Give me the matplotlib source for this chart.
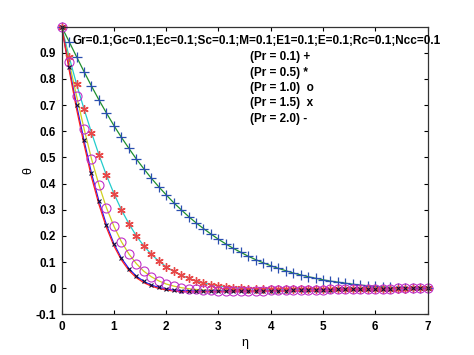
import matplotlib
matplotlib.use("Agg")
import matplotlib.pyplot as plt

plt.rcParams['font.family'] = ['Liberation Sans', 'DejaVu Sans']

# eta grid (solution points)
eta = [0.0, 0.143, 0.286, 0.429, 0.571, 0.714, 0.857, 1.0, 1.143, 1.286,
       1.429, 1.571, 1.714, 1.857, 2.0, 2.143, 2.286, 2.429, 2.571, 2.714,
       2.857, 3.0, 3.143, 3.286, 3.429, 3.571, 3.714, 3.857, 4.0, 4.143,
       4.286, 4.429, 4.571, 4.714, 4.857, 5.0, 5.143, 5.286, 5.429, 5.571,
       5.714, 5.857, 6.0, 6.143, 6.286, 6.429, 6.571, 6.714, 6.857, 7.0]

# theta for Pr = 0.1
th_01 = [1.0, 0.943, 0.885, 0.828, 0.773, 0.720, 0.670, 0.622, 0.577, 0.535,
         0.494, 0.457, 0.421, 0.388, 0.357, 0.327, 0.300, 0.274, 0.250, 0.228,
         0.207, 0.187, 0.169, 0.152, 0.137, 0.122, 0.109, 0.097, 0.086, 0.076,
         0.067, 0.058, 0.051, 0.044, 0.038, 0.032, 0.027, 0.023, 0.019, 0.015,
         0.012, 0.009, 0.007, 0.005, 0.003, 0.002, 0.001, 0.0, 0.0, 0.0]
# Pr = 0.5
th_05 = [1.0, 0.885, 0.780, 0.685, 0.595, 0.510, 0.432, 0.362, 0.300, 0.247,
         0.200, 0.162, 0.130, 0.104, 0.082, 0.064, 0.050, 0.038, 0.028, 0.020,
         0.014, 0.009, 0.005, 0.002, 0.000, -0.002, -0.003, -0.004, -0.005, -0.005,
         -0.005, -0.005, -0.005, -0.005, -0.005, -0.005, -0.005, -0.005, -0.005, -0.005,
         -0.004, -0.004, -0.004, -0.003, -0.003, -0.002, -0.002, -0.001, -0.001, 0.0]
# Pr = 1.0
th_10 = [1.0, 0.865, 0.735, 0.610, 0.495, 0.395, 0.308, 0.237, 0.178, 0.131,
         0.094, 0.065, 0.044, 0.028, 0.016, 0.008, 0.002, -0.002, -0.005, -0.007,
         -0.008, -0.009, -0.009, -0.009, -0.009, -0.009, -0.009, -0.009, -0.008, -0.008,
         -0.008, -0.007, -0.007, -0.007, -0.006, -0.006, -0.005, -0.005, -0.004, -0.004,
         -0.003, -0.003, -0.002, -0.002, -0.002, -0.001, -0.001, 0.0, 0.0, 0.0]
# Pr = 1.5
th_15 = [1.0, 0.845, 0.700, 0.565, 0.440, 0.333, 0.243, 0.170, 0.115, 0.075,
         0.046, 0.026, 0.012, 0.003, -0.003, -0.007, -0.009, -0.010, -0.011, -0.011,
         -0.011, -0.011, -0.011, -0.011, -0.011, -0.011, -0.010, -0.010, -0.010, -0.009,
         -0.009, -0.008, -0.008, -0.007, -0.007, -0.006, -0.006, -0.005, -0.005, -0.004,
         -0.004, -0.003, -0.003, -0.002, -0.002, -0.001, -0.001, -0.001, 0.0, 0.0]
# Pr = 2.0
th_20 = [1.0, 0.835, 0.685, 0.550, 0.425, 0.320, 0.232, 0.162, 0.108, 0.068,
         0.040, 0.021, 0.008, -0.001, -0.007, -0.011, -0.013, -0.014, -0.014, -0.014,
         -0.014, -0.014, -0.014, -0.014, -0.014, -0.014, -0.013, -0.013, -0.012, -0.012,
         -0.011, -0.010, -0.010, -0.009, -0.008, -0.008, -0.007, -0.006, -0.006, -0.005,
         -0.004, -0.004, -0.003, -0.003, -0.002, -0.002, -0.001, -0.001, 0.0, 0.0]

header = "Gr=0.1;Gc=0.1;Ec=0.1;Sc=0.1;M=0.1;E1=0.1;E=0.1;Rc=0.1;Ncc=0.1"
labels = ["(Pr = 0.1) +", "(Pr = 0.5) *", "(Pr = 1.0)  o", "(Pr = 1.5)  x", "(Pr = 2.0) -"]

fig = plt.figure(figsize=(4.74, 3.55), dpi=100)
ax = fig.add_axes([0.130, 0.1146, 0.772, 0.8102])

lw = 0.9
# lines
ax.plot(eta, th_01, color='#1f8f2f', lw=lw)
ax.plot(eta, th_05, color='#22cccc', lw=lw)
ax.plot(eta, th_10, color='#d0d020', lw=lw)
ax.plot(eta, th_15, color='#1a1aff', lw=lw)
ax.plot(eta, th_20, color='#ff2020', lw=lw)
# markers
ax.plot(eta, th_01, ls='none', marker='+', ms=6.5, mew=0.9, color='#2a4fb0', clip_on=False)
ax.plot(eta, th_05, ls='none', marker=(6, 2, 0), ms=6, mew=1.0, color='#e84848', clip_on=False)
ax.plot(eta, th_10, ls='none', marker='o', ms=6.5, mew=0.8, mfc='none', mec='#c030c8', clip_on=False)
ax.plot(eta, th_15, ls='none', marker='x', ms=3.2, mew=0.8, color='#10103a', clip_on=False)

ax.set_xlim(0, 7)
ax.set_ylim(-0.1, 1.0)
ax.set_xticks(range(8))
yt = [-0.1, 0, 0.1, 0.2, 0.3, 0.4, 0.5, 0.6, 0.7, 0.8, 0.9]
ax.set_yticks(yt)
ax.set_yticklabels(["-0.1", "0", "0.1", "0.2", "0.3", "0.4", "0.5", "0.6", "0.7", "0.8", "0.9"])
ax.tick_params(direction='in', top=True, right=True, length=3, width=0.8,
               labelsize=8.5)
ax.tick_params(axis='x', pad=5)
ax.tick_params(axis='y', pad=4)
for t in ax.get_xticklabels() + ax.get_yticklabels():
    t.set_fontweight('bold')
for s in ax.spines.values():
    s.set_linewidth(0.9)
    s.set_color('#333333')

ax.set_xlabel("η", fontsize=9, labelpad=3)
ax.set_ylabel("θ", fontsize=9, labelpad=1)

ax.text(0.2, 0.945, header, fontsize=8.5, fontweight='bold', ha='left', va='center')
ys = [0.884, 0.823, 0.765, 0.708, 0.647]
for lab, yy in zip(labels, ys):
    ax.text(3.6, yy, lab, fontsize=8.5, fontweight='bold', ha='left', va='center')

fig.savefig("out.png", dpi=100)
